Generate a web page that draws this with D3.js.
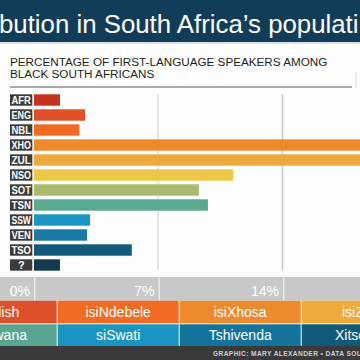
<!DOCTYPE html>
<html><head><meta charset="utf-8">
<script src="https://cdn.jsdelivr.net/npm/d3@7"></script>
<style>html,body{margin:0;padding:0;background:#fff;}svg{display:block;font-family:"Liberation Sans",Arial,sans-serif;}</style>
</head><body><svg id="c" width="360" height="360"></svg>
<script>
const titleText = "bution in South Africa\u2019s populati";
const subtitleLines = ["PERCENTAGE OF FIRST-LANGUAGE SPEAKERS AMONG", "BLACK SOUTH AFRICANS"];
const codes = ["AFR","ENG","NBL","XHO","ZUL","NSO","SOT","TSN","SSW","VEN","TSO","?"];
const values = [1.46, 2.87, 2.55, 20.0, 30.0, 11.2, 9.27, 9.78, 3.15, 2.98, 5.5, 1.46];
const barColors = ["#c8311f","#e0512a","#f26a22","#ee8a2c","#eea93c","#ebc947","#a8bb6d","#5ba893","#1996c3","#1b79a5","#135a7b","#143a50"];
const tickValues = [0, 7, 14];
const tickLabels = ["0%","7%","14%"];
const legendRow1 = ["English","isiNdebele","isiXhosa","isiZulu"];
const legendRow1Colors = ["#dd5128","#f26b22","#ee8a2e","#f0aa3c"];
const legendRow2 = ["Setswana","siSwati","Tshivenda","Xitsonga"];
const legendRow2Colors = ["#5aa58f","#1a94c0","#14739a","#135a7a"];
const footerText = "GRAPHIC: MARY ALEXANDER \u2022 DATA SOURCE";

const svg = d3.select("#c");
svg.append("rect").attr("width",360).attr("height",360).attr("fill","#fcfdfc");

// title band
svg.append("rect").attr("x",0).attr("y",0).attr("width",360).attr("height",42).attr("fill","#123d58");
svg.append("rect").attr("x",0).attr("y",42).attr("width",360).attr("height",2).attr("fill","#d9dfe3");
svg.append("text").attr("x",-1).attr("y",32.5).attr("fill","#fff").attr("font-size",25.8).text(titleText);

// subtitle
svg.selectAll("text.sub").data(subtitleLines).join("text").attr("class","sub")
  .attr("x",10).attr("y",(d,i)=>66+i*11.5).attr("font-size",11.7).attr("fill","#1e1e1e").text(d=>d);
svg.append("line").attr("x1",10).attr("x2",352).attr("y1",87).attr("y2",87).attr("stroke","#a9a9a9").attr("stroke-width",2);
svg.append("line").attr("x1",356).attr("x2",356).attr("y1",72).attr("y2",88).attr("stroke","#ddd").attr("stroke-width",1);

const x = d3.scaleLinear().domain([0,14]).range([34,283]);
const y = d3.scaleBand().domain(codes).range([94.3, 94.3+11*15+11.4]).paddingInner(0.24).paddingOuter(0);

// gridlines
svg.selectAll("line.grid").data(tickValues.slice(1)).join("line").attr("class","grid")
  .attr("x1",d=>x(d)-0.5).attr("x2",d=>x(d)-0.5).attr("y1",94).attr("y2",270)
  .attr("stroke",(d,i)=>i===0?"#dcdcdc":"#c6c6c6").attr("stroke-width",1.5);

// bars
svg.selectAll("rect.bar").data(codes).join("rect").attr("class","bar")
  .attr("x",x(0)).attr("y",d=>y(d)).attr("height",y.bandwidth())
  .attr("width",(d,i)=>x(values[i])-x(0)).attr("fill",(d,i)=>barColors[i]);

// label boxes
svg.selectAll("rect.lab").data(codes).join("rect").attr("class","lab")
  .attr("x",10).attr("y",d=>y(d)).attr("width",22.3).attr("height",y.bandwidth()).attr("fill","#3b3b3b");
svg.selectAll("text.lab").data(codes).join("text").attr("class","lab")
  .attr("x",21.2).attr("y",d=>y(d)+y.bandwidth()/2+3.9).attr("text-anchor","middle")
  .attr("font-size",10.8).attr("font-weight","bold").attr("fill","#fff").text(d=>d)
  .each(function(){ if(this.getComputedTextLength()>19.5){ d3.select(this).attr("textLength",19.5).attr("lengthAdjust","spacingAndGlyphs"); } });

// axis band
svg.append("rect").attr("x",0).attr("y",277).attr("width",360).attr("height",23.7).attr("fill","#c8c8c8");
svg.selectAll("line.sep").data(tickValues).join("line").attr("class","sep")
  .attr("x1",d=>x(d)+0.7).attr("x2",d=>x(d)+0.7).attr("y1",277).attr("y2",300.7)
  .attr("stroke","#eeeeee").attr("stroke-width",1.3);
svg.selectAll("text.tick").data(tickValues).join("text").attr("class","tick")
  .attr("x",d=>x(d)-4).attr("y",296).attr("text-anchor","end").attr("font-size",14)
  .attr("fill","#fff").text((d,i)=>tickLabels[i]);

// legend
const col = d3.scaleLinear().domain([0,1]).range([-64.3,57.7]);
function legendRow(names, colors, y0, h){
  const g = svg.append("g");
  g.selectAll("rect").data(names).join("rect")
    .attr("x",(d,i)=>col(i)).attr("y",y0).attr("width",col(1)-col(0)-1).attr("height",h)
    .attr("fill",(d,i)=>colors[i]);
  g.selectAll("text").data(names).join("text")
    .attr("x",(d,i)=>col(i)+(col(1)-col(0)-1)/2).attr("y",y0+h/2+5).attr("text-anchor","middle")
    .attr("font-size",14).attr("fill","#fff").text(d=>d);
}
legendRow(legendRow1, legendRow1Colors, 300.7, 22.6);
legendRow(legendRow2, legendRow2Colors, 324.3, 21.7);

// footer
svg.append("rect").attr("x",0).attr("y",346).attr("width",360).attr("height",14).attr("fill","#3a3a3a");
svg.append("text").attr("x",213).attr("y",355.5).attr("font-size",6.6).attr("font-weight","bold")
  .attr("letter-spacing",0.4).attr("fill","#d0d0d0").text(footerText);
</script></body></html>
